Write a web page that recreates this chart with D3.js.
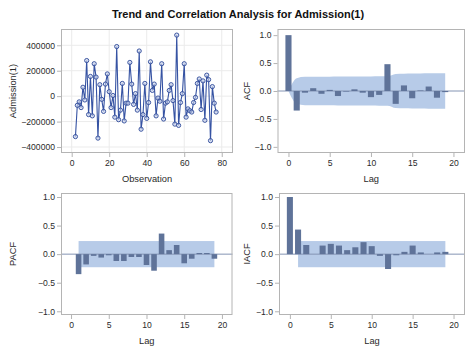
<!DOCTYPE html>
<html><head><meta charset="utf-8">
<script src="https://cdn.jsdelivr.net/npm/d3@7"></script>
<style>
html,body{margin:0;padding:0;background:#fff;}
svg{display:block;font-family:"Liberation Sans",Arial,sans-serif;}
</style></head>
<body><svg id="c" width="474" height="355"></svg>
<script>
const title = "Trend and Correlation Analysis for Admission(1)";
const obs = d3.range(2, 78);
const series = [-318000,-72000,-45000,-90000,70000,-30000,280000,-145000,155000,-155000,
  255000,150000,-330000,90000,-25000,-120000,95000,175000,35000,-90000,
  5000,-165000,390000,-185000,-110000,100000,-195000,-55000,-55000,265000,
  95000,-65000,20000,-110000,355000,-260000,-145000,100000,-175000,-50000,
  270000,45000,95000,-155000,-15000,-40000,255000,-180000,-55000,-45000,
  45000,90000,-35000,-220000,480000,-230000,-50000,20000,255000,-165000,
  -100000,-115000,-125000,-50000,-10000,100000,135000,-105000,120000,-190000,
  165000,130000,-350000,75000,-55000,-125000];
const lags = d3.range(0, 20);
const acf = [1.0,-0.35,-0.03,0.05,-0.05,0.02,-0.09,-0.01,0.03,-0.03,-0.11,-0.07,0.48,-0.23,0.10,-0.13,0.01,0.08,-0.12,-0.02];
const acfBand = [0,0.23,0.255,0.256,0.257,0.257,0.258,0.259,0.26,0.26,0.261,0.262,0.263,0.305,0.31,0.312,0.315,0.316,0.318,0.319];
const pacfLags = d3.range(1, 20);
const pacf = [-0.35,-0.18,-0.03,-0.06,-0.02,-0.12,-0.12,-0.05,-0.05,-0.19,-0.29,0.36,0.07,0.16,-0.16,-0.08,0.02,0.02,-0.08];
const iacf = [1.0,0.43,0.16,0.0,0.15,0.18,0.15,0.07,0.12,0.21,0.14,-0.03,-0.26,-0.02,0.04,0.15,0.03,0.0,0.03,0.04];
const band2 = 0.229;
const seriesYTicks = [-400000,-200000,0,200000,400000];
const seriesXTicks = [0,20,40,60,80];
const corrYTicks = [-1.0,-0.5,0.0,0.5,1.0];
const lagTicks = [0,5,10,15,20];

const svg = d3.select("#c");
const FRAME = "#b4b4b4", TXT = "#2a2a2a", BAR = "#5f7399", BAND = "#b7cbe8", ZERO = "#8494b3";

svg.append("text").attr("x",238).attr("y",18).attr("text-anchor","middle")
  .attr("font-size",11).attr("font-weight","bold").attr("fill","#111").text(title);

function panel(o){
  const g = svg.append("g");
  const x = d3.scaleLinear().domain(o.xd).range([o.x0,o.x1]);
  const y = d3.scaleLinear().domain(o.yd).range([o.y1,o.y0]);
  if(o.grid){
    g.selectAll(".gx").data(o.xt).join("line").attr("x1",d=>x(d)).attr("x2",d=>x(d))
      .attr("y1",o.y0).attr("y2",o.y1).attr("stroke","#ebebeb");
    g.selectAll(".gy").data(o.yt).join("line").attr("y1",d=>y(d)).attr("y2",d=>y(d))
      .attr("x1",o.x0).attr("x2",o.x1).attr("stroke","#ebebeb");
  }
  const ax = g.append("g").attr("transform",`translate(0,${o.y1})`)
    .call(d3.axisBottom(x).tickValues(o.xt).tickSize(4).tickPadding(3).tickFormat(d3.format("d")));
  const ay = g.append("g").attr("transform",`translate(${o.x0},0)`)
    .call(d3.axisLeft(y).tickValues(o.yt).tickSize(4).tickPadding(2).tickFormat(o.yf));
  [ax,ay].forEach(a=>{
    a.select(".domain").remove();
    a.selectAll("line").attr("stroke",FRAME);
    a.selectAll("text").attr("font-size",8.6).attr("fill",TXT).attr("font-family","Liberation Sans, Arial, sans-serif");
  });
  g.append("text").attr("x",(o.x0+o.x1)/2).attr("y",o.y1+29).attr("text-anchor","middle")
    .attr("font-size",9.3).attr("fill",TXT).text(o.xl);
  g.append("text").attr("transform",`translate(${o.ylx},${(o.y0+o.y1)/2}) rotate(-90)`)
    .attr("text-anchor","middle").attr("font-size",9.3).attr("fill",TXT).text(o.yl);
  const plot = g.append("g");
  g.append("rect").attr("x",o.x0+0.5).attr("y",o.y0+0.5).attr("width",o.x1-o.x0-1).attr("height",o.y1-o.y0-1)
    .attr("fill","none").attr("stroke",FRAME);
  return {x,y,plot};
}

// Series panel
const p1 = panel({x0:61,x1:233,y0:29,y1:153,xd:[-5.7,86],yd:[-447000,528000],
  xt:seriesXTicks,yt:seriesYTicks,yf:d3.format("d"),grid:true,xl:"Observation",yl:"Admission(1)",ylx:16});
p1.plot.append("path").datum(series)
  .attr("d",d3.line().x((d,i)=>p1.x(obs[i])).y(d=>p1.y(d)))
  .attr("fill","none").attr("stroke","#3653a3").attr("stroke-width",1.1);
p1.plot.selectAll("circle").data(series).join("circle")
  .attr("cx",(d,i)=>p1.x(obs[i])).attr("cy",d=>p1.y(d)).attr("r",2.1)
  .attr("fill","#c9d3ec").attr("fill-opacity",0.6).attr("stroke","#2c4899").attr("stroke-width",0.9);

function corrPanel(o, vals, vlags, bandFn){
  const p = panel(Object.assign({xd:[-1.33,21.4],xt:lagTicks,yt:corrYTicks,yf:d3.format(".1f"),grid:false,xl:"Lag"},o));
  bandFn(p);
  p.plot.append("line").attr("x1",o.x0).attr("x2",o.x1).attr("y1",p.y(0)).attr("y2",p.y(0))
    .attr("stroke",ZERO).attr("stroke-width",1);
  const w = (p.x(1)-p.x(0))*0.74;
  p.plot.selectAll(".bar").data(vals).join("rect")
    .attr("x",(d,i)=>p.x(vlags[i])-w/2).attr("width",w)
    .attr("y",d=>p.y(Math.max(0,d))).attr("height",d=>Math.abs(p.y(d)-p.y(0)))
    .attr("fill",BAR);
  return p;
}

corrPanel({x0:277.5,x1:465,y0:29,y1:153,yd:[-1.11,1.11],yl:"ACF",ylx:250}, acf, lags, p=>{
  p.plot.append("path").datum(lags)
    .attr("d",d3.area().x(d=>p.x(d)).y0((d,i)=>p.y(-acfBand[i])).y1((d,i)=>p.y(acfBand[i])).curve(d3.curveMonotoneX))
    .attr("fill",BAND);
});
const flatBand = p=>{
  p.plot.append("rect").attr("x",p.x(1)).attr("width",p.x(19)-p.x(1))
    .attr("y",p.y(band2)).attr("height",p.y(-band2)-p.y(band2)).attr("fill",BAND);
};
corrPanel({x0:61,x1:232.5,y0:193,y1:315,yd:[-1.065,1.07],yl:"PACF",ylx:16}, pacf, pacfLags, flatBand);
corrPanel({x0:279,x1:465,y0:193,y1:315,yd:[-1.065,1.07],yl:"IACF",ylx:250}, iacf, lags, flatBand);
</script></body></html>
